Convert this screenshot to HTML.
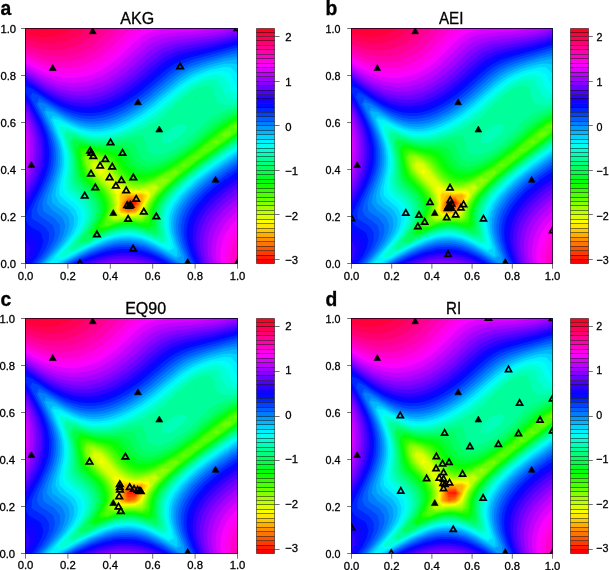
<!DOCTYPE html><html><head><meta charset="utf-8"><title>Contour plots</title><style>html,body{margin:0;padding:0;background:#fff;overflow:hidden}svg{display:block}text{font-family:"Liberation Sans",Arial,Helvetica,sans-serif;fill:#000;stroke:#000;stroke-width:0.3px}</style></head><body>
<svg width="609" height="570" viewBox="0 0 609 570">
<defs><clipPath id="pc"><rect x="0" y="0" width="212" height="235"/></clipPath>
<g id="cf"><rect width="212" height="235" fill="#ff0000"/>
<path fill="#ff1d00" d="M6.8 235 212 235 212 0 0 0 0 235Z"/>
<path fill="#ff3a00" d="M6.8 235 212 235 212 0 0 0 0 235ZM102.1 174.4 102.6 173.8 109.4 173 110.7 174.4 109.4 176.3 102.6 175.6Z"/>
<path fill="#ff5700" d="M6.8 235 212 235 212 0 0 0 0 235ZM100.9 174.4 102.6 172.3 109.4 171.7 111.8 174.4 109.4 178.1 102.6 179.1Z"/>
<path fill="#ff7300" d="M6.8 235 212 235 212 0 0 0 0 235ZM102.1 181.9 99.7 174.4 102.6 170.8 109.4 170.5 113 174.4 109.4 179.8 103.5 181.9Z"/>
<path fill="#ff9000" d="M6.8 235 212 235 212 0 0 0 0 235ZM99.4 181.9 98.5 174.4 102.6 169.3 109.4 169.2 114.1 174.4 109.4 181.6 102.6 182.9Z"/>
<path fill="#ffad00" d="M6.8 235 212 235 212 0 0 0 0 235ZM96.7 181.9 97.3 174.4 102.6 167.8 109.4 168 115.3 174.4 110.6 181.9 109.4 182.7 102.6 183.7Z"/>
<path fill="#ffca00" d="M6.8 235 212 235 212 0 0 0 0 235ZM95 181.9 96.1 174.4 99.7 166.8 102.6 166.3 109.4 166.7 116.3 166.1 117.6 166.8 116.4 174.4 112.1 181.9 109.4 183.7 102.6 184.5 95.7 182.8Z"/>
<path fill="#ffe700" d="M6.8 235 212 235 212 0 0 0 0 235ZM93.8 181.9 94.8 174.4 94.7 166.8 95.7 165.1 102.6 164.8 109.4 165.4 116.3 164.9 120.2 166.8 116.3 177.3 113.6 181.9 109.4 184.6 102.6 185.3 95.7 184.2Z"/>
<path fill="#faff00" d="M6.8 235 212 235 212 0 0 0 0 235ZM92.6 181.9 93.6 174.4 93 166.8 95.7 162.2 109.4 164.2 116.3 163.7 122.8 166.8 118.5 174.4 115.1 181.9 109.4 185.6 102.6 186.1 95.7 185.5Z"/>
<path fill="#ddff00" d="M6.8 235 212 235 212 0 0 0 0 235ZM91.3 181.9 92.3 174.4 91.3 166.8 88 159.2 88.9 157 102.6 161.9 109.4 162.9 116.3 162.4 123.1 163.4 124.2 166.8 119.6 174.4 116.3 182.4 109.4 186.6 95.7 186.9ZM81.9 151.6 82.1 151.1 82.4 151.6ZM73.8 144 75.2 139.8 78.4 144 75.2 145.4Z"/>
<path fill="#c0ff00" d="M6.8 235 212 235 212 0 0 0 0 235ZM90.1 181.9 91.1 174.4 88.9 165.3 85.8 159.2 82.1 154.6 71.2 144 68.4 140 66.6 136.5 68.4 133.7 75.2 135.4 76.6 136.5 89 151.6 95.7 157.1 99.4 159.2 102.6 160.5 109.4 161.6 116.3 161.2 123.1 159.6 125.4 166.8 120.6 174.4 116.3 184.8 109.4 187.5 95.7 188.3ZM124.3 159.2 129.9 158.3 130.8 159.2 129.9 160.1Z"/>
<path fill="#a4ff00" d="M6.8 235 212 235 212 0 0 0 0 235ZM87.1 189.5 88.9 182.1 89.8 174.4 87.8 166.8 83.5 159.2 82.1 157.4 68.4 143.6 64.8 136.5 68.4 130.9 75.2 133.4 79.1 136.5 91.6 151.6 95.7 155 102.6 158.9 109.4 160.3 116.3 159.9 123.1 157.9 129.9 156.5 132.5 159.2 129.9 161.9 121.7 174.4 118.9 181.9 116.3 187.2 109.4 188.5 102.6 188.6 88.9 190.5Z"/>
<path fill="#87ff00" d="M6.8 235 212 235 212 0 0 0 0 235ZM85.2 189.5 87.5 181.9 88.5 174.4 86.1 166.8 81.4 159.2 66.7 144 63 136.5 64.8 128.9 68.4 128.5 75.2 131.4 81.7 136.5 88.9 145.9 94.2 151.6 102.6 156.9 109.4 158.9 116.3 158.5 129.9 154.6 134.2 159.2 129.9 163.8 122.8 174.4 120.1 181.9 116.4 189.5 102.6 189.4 88.9 191.6ZM135.1 151.6 136.8 150.8 139.4 151.6 136.8 153.5Z"/>
<path fill="#6aff00" d="M6.8 235 212 235 212 98.8 211.2 98.5 212 98.2 212 0 0 0 0 235ZM83.3 189.5 86.1 181.9 86.8 174.4 84.5 166.8 79.4 159.2 68.4 148.1 64.8 144 61.3 136.5 60.3 128.9 61.5 127.1 68.4 127 75.2 129.4 82.1 134.1 84.3 136.5 89.8 144 97.2 151.6 102.6 154.8 109.4 156.9 116.3 156.7 123.1 155 129.9 152.8 136.8 149.2 143.6 150.4 143.9 151.6 136.8 157.2 135.8 159.2 129.9 165.6 124 174.4 118.5 189.5 116.3 190.9 102.6 190.4 88.9 192.7ZM147.9 144 150.5 142.9 151.5 144 150.5 144.8ZM190.3 113.7 191.5 113 192.2 113.7 191.5 114.1ZM198 106.1 199.5 106.1 198.3 106.5Z"/>
<path fill="#4dff00" d="M6.8 235 212 235 212 100.3 206.7 98.5 212 96.1 212 0 0 0 0 235ZM81.5 189.5 84.6 181.9 85.2 174.4 82.8 166.8 82.1 165.6 77.4 159.2 68.4 150.3 63 144 61.5 141.1 59.8 136.5 58.8 128.9 61.5 124.9 68.4 125.5 78.3 128.9 82.1 131.3 86.9 136.5 92.5 144 95.7 147.5 100.6 151.6 102.6 152.8 109.4 154.9 116.3 155 123.1 153.5 129.9 151 143.6 143.8 150.5 140.8 153.5 144 150.5 146.4 137.4 159.2 130.4 166.8 125.4 174.4 122.5 181.9 120.7 189.5 116.3 192.2 102.6 191.4 88.9 193.7 82.1 192.1ZM155.6 136.5 157.3 135.3 162.3 136.5 157.3 138.4ZM167.6 128.9 171 126.9 172.8 128.9 171 130.1ZM176.5 121.3 177.8 120.2 183.6 121.3 177.8 122.8ZM186.6 113.7 191.5 110.5 194.4 113.7 191.5 115.6ZM195.7 106.1 198.3 104.1 205.2 102.3 205.7 106.1 205.2 106.6 198.3 109.1Z"/>
<path fill="#30ff00" d="M6.8 235 212 235 212 101.8 205.2 107.8 198.3 111.8 196.7 113.7 191.5 117 184.6 122.4 177.8 125.5 175 128.9 171 131.5 164.1 137.4 157.3 141.3 155.5 144 150.5 147.9 138.9 159.2 131.9 166.8 126.7 174.4 123.8 181.9 122.9 189.5 116.3 193.5 109.4 192.6 102.6 192.4 88.9 194.8 82.1 197.4 78.9 197.1 80 189.5 83.2 181.9 83.6 174.4 80.9 166.8 75.4 159.2 67.4 151.6 61.1 144 58.4 136.5 57.2 128.9 61.5 122.6 75.2 125.9 82.6 128.9 88.9 135.3 95.7 144.6 102.6 150.2 105.3 151.6 109.4 152.9 116.3 153.2 123.1 152 136.8 146.1 143.6 142.1 150.5 138.6 164.1 128.6 171 124.5 174.2 121.3 184.6 112.8 191.5 108.1 193.4 106.1 203.5 98.5 205.2 97.4 212 94 212 0 0 0 0 235Z"/>
<path fill="#13ff00" d="M6.8 235 212 235 212 103.3 209 106.1 198.3 114.1 191.5 118.4 184.6 123.6 171 133 150.5 149.5 140.3 159.2 133.3 166.8 128.1 174.4 125.2 181.9 124.4 189.5 123.1 193.5 116.3 194.7 109.4 193.7 102.6 193.4 95.7 194.3 88.9 195.8 82.1 198.4 75.2 198.3 74.1 197.1 78.5 189.5 81.7 181.9 81.9 174.4 78.7 166.8 75.2 161.9 72.8 159.2 64.7 151.6 61.5 147.9 59.2 144 57 136.5 55.6 128.9 56 121.3 61.5 120.7 82.1 126.3 87.1 128.9 88.9 130.7 95.7 140.3 98.9 144 102.6 147.1 109.4 150.5 116.3 151.3 123.1 149.9 136.8 144.5 150.5 136.5 171 122.2 184.6 110.9 201.1 98.5 205.2 95.6 212 91.9 212 0 0 0 0 235Z"/>
<path fill="#00ff0a" d="M6.8 235 212 235 212 104.8 198.3 115.3 191.5 119.8 171 134.4 150.5 151 141.7 159.2 134.8 166.8 129.4 174.4 126.7 181.9 125.9 189.5 123.6 197.1 123.1 197.4 109.4 194.8 102.6 194.5 95.7 195.3 88.9 196.9 82.1 199.4 75.2 200.2 72.5 197.1 77 189.5 79.8 181.9 79.8 174.4 76.6 166.8 75.2 164.9 70.3 159.2 62.1 151.6 57.3 144 54.1 128.9 53.2 121.3 54.7 119.1 61.5 119.2 68.4 121 82.1 123.9 88.9 126.7 91.6 128.9 96.5 136.5 102.8 144 109.4 147.4 116.3 148.5 123.1 147.6 129.9 145.5 136.8 142.4 147.5 136.5 157.3 130.1 177.8 114.7 191.5 103.5 205.2 93.8 212 89.9 212 0 0 0 0 235Z"/>
<path fill="#00ff26" d="M6.8 235 212 235 212 106.3 198.3 116.6 171 135.9 151.5 151.6 143.2 159.2 136.2 166.8 131 174.4 128.1 181.9 126.3 197.1 123.1 198.9 109.4 195.9 102.6 195.5 95.7 196.2 88.9 198 82.1 200.4 75.2 202 68.4 205.4 66.9 204.7 68.4 202.5 70.9 197.1 75.5 189.5 77.9 181.9 77.6 174.4 74.2 166.8 68.4 160.1 59.3 151.6 55.4 144 51.6 121.3 54.7 116.6 61.5 117.7 68.4 119.4 82.1 121.6 88.9 123.1 95.7 128.2 100.8 136.5 102.6 138.6 109 144 116.3 145.7 123.1 145.3 129.9 143.5 143.6 136.9 156.3 128.9 176.5 113.7 191.5 101.3 198.3 96.3 212 88 212 0 0 0 0 235Z"/>
<path fill="#00ff43" d="M6.8 235 212 235 212 107.8 198.3 117.9 172.1 136.5 153.2 151.6 144.9 159.2 136.8 168.3 132.7 174.4 129.9 180.8 129.5 181.9 128.8 189.5 129 197.1 123.1 200.4 109.4 196.9 102.6 196.5 95.7 197.2 82.1 201.5 68.4 206.6 64.5 204.7 68.4 198.9 73.6 189.5 76 181.9 75.5 174.4 71.4 166.8 68.4 163.3 56.4 151.6 54.7 148.1 53.4 144 50 121.3 54.7 114.2 68.4 117.8 75.2 118.9 88.9 119.9 95.2 121.3 101.3 128.9 106.1 136.5 109.4 139.3 116.3 142.2 123.1 142.3 129.9 140.5 136.8 137.9 140 136.5 152.8 128.9 163.9 121.3 177.8 109.8 198.3 93.8 212 86.1 212 0 0 0 0 235Z"/>
<path fill="#00ff60" d="M6.8 235 212 235 212 109.3 184.2 128.9 163.9 144 146.7 159.2 139.7 166.8 134.4 174.4 131.2 181.9 130.3 189.5 131 197.1 129.9 201.9 123.1 201.9 109.4 198.2 102.6 197.7 95.7 198.4 88.9 200.2 82.1 202.5 68.4 207.8 62 204.7 67.5 197.1 71.7 189.5 73.8 181.9 72.8 174.4 68.6 166.8 54.7 153.4 53.5 151.6 51.5 144 49.9 128.9 47 113.7 47.9 112.3 54.7 112.4 61.5 114.7 68.4 116.2 75.2 117.1 95.7 117.5 102.6 120.1 103.8 121.3 107.2 128.9 109.4 132.3 113.7 136.5 116.3 137.7 123.1 138.5 129.9 137.5 136.8 135.1 148.7 128.9 159.9 121.3 170 113.7 184.6 101 191.5 95.6 205.2 87.1 212 84.2 212 0 0 0 0 235Z"/>
<path fill="#00ff7d" d="M6.8 235 212 235 212 110.8 186.3 128.9 165.9 144 156.6 151.6 148.5 159.2 141.5 166.8 136.1 174.4 133 181.9 132 189.5 132.6 197.1 131.9 204.7 129.9 205.7 116.3 201.2 109.4 199.6 102.6 199 95.7 199.7 82.1 203.5 68.4 209 61.5 212.7 54.7 212.8 54.2 212.3 65.6 197.1 69.8 189.5 71.4 181.9 70.1 174.4 68.4 171.3 65 166.8 54.7 157.4 50.7 151.6 49.5 144 48.5 128.9 45.2 113.7 47.9 109.5 54.7 110.8 61.5 113.1 68.4 114.6 75.2 115.3 82.1 115.2 102.6 113.2 106.2 113.7 109.4 116 114.8 128.9 116.3 130.3 123.1 133.4 129.9 133.1 136.8 131.2 143.6 128.5 155.2 121.3 165.4 113.7 184.6 96.8 191.5 91.7 198.3 87.3 212 81.7 212 0 0 0 0 235Z"/>
<path fill="#00ff9a" d="M6.8 235 212 235 212 112.3 205.2 117.5 177.7 136.5 167.9 144 158.6 151.6 150.3 159.2 143.3 166.8 138 174.4 134.8 181.9 133.7 189.5 135 204.7 129.9 207.4 116.3 202.5 109.4 200.9 102.6 200.4 95.7 201 88.9 202.5 82.1 204.5 68.4 210.2 61.5 213.8 54.7 214.9 52.4 212.3 63.7 197.1 67.6 189.5 68.9 181.9 67 174.4 61.5 167 52.2 159.2 47.9 151.6 47.7 136.5 47 128.9 43.5 113.7 47.9 106.8 61.5 111.4 68.4 112.9 75.2 113.4 82.1 113.1 88.9 112.1 109.4 107.7 116.3 106.8 120.4 113.7 121.3 121.3 123.1 123.8 129.9 127 136.8 125.9 147.9 121.3 159.2 113.7 168 106.1 175.8 98.5 177.8 96.1 184.6 90.1 191.5 85.4 205.2 80.6 212 78.7 212 0 0 0 0 235ZM169.8 68.2 171 67.7 173.1 68.2 171 70.5Z"/>
<path fill="#00ffb7" d="M6.8 235 212 235 212 113.9 205.2 119.1 180 136.5 169.9 144 160.8 151.6 152.5 159.2 145.4 166.8 140.1 174.4 136.6 181.9 135.4 189.5 135.9 197.1 137.5 204.7 136.8 209.6 129.9 209.1 116.3 203.8 109.4 202.2 102.6 201.7 95.7 202.2 88.9 203.6 82.1 205.8 68.4 211.4 61.5 214.9 54.7 217 50.8 219.8 47.9 221.1 45.1 219.8 47.9 216.7 50.5 212.3 56.6 204.7 61.9 197.1 65.1 189.5 66 181.9 63.5 174.4 61.5 171.8 56.6 166.8 47.8 159.2 45.4 151.6 45.9 136.5 45.4 128.9 43.9 121.3 39.8 106.1 41 104.1 47.9 104.8 54.7 107.6 61.5 109.7 68.4 111 75.2 111.4 82.1 110.9 88.9 109.7 95.7 108 109.4 103.3 116.3 100.5 129.9 93.6 133.1 91 136.8 88.8 150 75.8 158.4 68.2 168.9 60.6 171 59.5 177.8 57.3 184.6 57.3 188.2 60.6 189.6 68.2 191.5 72.8 195.6 75.8 198.3 76.3 205.2 76.4 212 75.8 212 0 0 0 0 235ZM136.8 114.2 143.6 114.6 145.9 113.7 157.3 106.1 161.9 98.5 157.3 95.6 150.5 96.8 147 98.5 143.6 101 138.2 106.1 136.2 113.7Z"/>
<path fill="#00ffd4" d="M6.8 235 212 235 212 115.9 182.4 136.5 172.2 144 162.9 151.6 154.7 159.2 147.6 166.8 142.2 174.4 138.7 181.9 137.2 189.5 137.6 197.1 139.3 204.7 139.4 212.3 136.8 213.6 116.3 205.2 109.4 203.6 102.6 203 95.7 203.5 88.9 204.7 75.2 209.7 69.1 212.3 47.9 222.4 42.3 219.8 47.9 213.6 54.8 204.7 59.6 197.1 62.6 189.5 62.8 181.9 61.5 178.4 59.5 174.4 54.7 169.5 47.9 164 43.9 159.2 42.8 151.6 44.1 136.5 43.7 128.9 42.4 121.3 38 106.1 41 101.1 47.9 103.1 54.7 105.9 61.5 107.9 68.4 109.1 75.2 109.3 82.1 108.7 88.9 107.3 102.6 102.8 116.3 96.2 129.9 87.7 162.5 60.6 171 55.6 177.8 52.4 184.6 51 191.5 51.7 193.7 53.1 198.3 63.9 201.3 68.2 205.2 70.2 212 71.3 212 0 0 0 0 235Z"/>
<path fill="#00fff1" d="M6.8 235 212 235 212 117.9 184.9 136.5 174.8 144 165.3 151.6 156.9 159.2 149.9 166.8 143.6 175.8 140.8 181.9 139.2 189.5 139.5 197.1 142.9 212.3 136.8 215.4 123.1 209.3 116.3 206.7 109.4 205 106.4 204.7 102.6 204.4 95.7 204.8 88.9 206.2 82.1 208.3 71.7 212.3 47.9 223.6 41 227.8 34.2 228.5 33.2 227.4 46.7 212.3 52.6 204.7 57.1 197.1 59.6 189.5 59.2 181.9 54.9 174.4 45.4 166.8 41 161.3 40.2 159.2 40.3 151.6 42.3 136.5 42.1 128.9 40.9 121.3 33.8 98.5 34.2 97.8 41 98.3 54.7 104.1 61.5 106.2 68.4 107.2 75.2 107.3 82.1 106.5 88.9 104.9 95.7 102.6 102.6 99.9 109.4 96.5 116.3 92.8 123.1 88.4 136.8 78.2 157.6 60.6 164.1 56.2 171 52.1 177.8 49.3 184.6 47.2 191.5 46.1 198.3 48.4 201.6 53.1 205.2 61.1 212 66.2 212 0 0 0 0 235Z"/>
<path fill="#00f1ff" d="M6.8 235 25.6 235 27.4 233.3 28.9 235 212 235 212 120 187.9 136.5 177.3 144 168 151.6 159.6 159.2 152.4 166.8 146.9 174.4 143 181.9 141.3 189.5 141.4 197.1 142.7 204.7 145 212.3 145.1 219.8 143.6 220.6 123.1 210.7 116.3 208.3 109.4 206.6 102.6 206 95.7 206.4 88.9 207.7 75.2 211.9 47.9 224.9 41 229 34.2 230.7 31.3 227.4 44.7 212.3 50.3 204.7 54.6 197.1 56.4 189.5 55.2 181.9 54.7 181.1 49.1 174.4 39.4 166.8 36.9 159.2 40.4 136.5 40.4 128.9 39.2 121.3 37.1 113.7 31.9 98.5 34.2 94.5 41 96.4 47.9 99.7 54.7 102.3 61.5 104.2 68.4 105.2 75.2 105.1 82.1 104.1 88.9 102.4 95.7 100 102.6 97 113.8 91 123.1 85 129.9 80 153.3 60.6 163.8 53.1 171 49.2 177.8 46.3 184.6 44.1 191.5 42.8 198.3 42.6 205.2 45.5 208.5 53.1 212 58.7 212 0 0 0 0 235Z"/>
<path fill="#00d4ff" d="M6.8 235 22.7 235 27.4 230.4 29.4 227.4 42.6 212.3 48.1 204.7 51.5 197.1 52.7 189.5 50.2 181.9 47.9 179.1 41 173.6 34 166.8 33.7 159.2 37.3 144 38.4 136.5 38.5 128.9 37.5 121.3 35.6 113.7 27.2 91 27.4 90.6 34.2 91.2 47.9 97.9 54.7 100.4 61.5 102.1 68.4 102.9 75.2 102.8 82.1 101.7 88.9 99.9 95.7 97.4 108.7 91 116.3 86.4 129.9 76.6 150.5 59.6 157.3 54.4 164.1 49.9 173 45.5 184.6 41.4 198.3 38.4 205.2 38.7 212 45.2 212 0 0 0 0 235ZM34.2 235 212 235 212 122.2 190.8 136.5 170.7 151.6 162.3 159.2 157.3 164.4 155.1 166.8 149.3 174.4 145.5 181.9 143.6 188.5 143.2 197.1 144.6 204.7 148.8 219.8 143.6 222.5 123.4 212.3 116.3 209.8 109.4 208.2 102.6 207.6 95.7 207.9 88.9 209.1 77.9 212.3 61.5 219.2 47.9 226.1 41 230.1 34.2 232.9 31.6 235Z"/>
<path fill="#00b7ff" d="M6.8 235 20 235 34.2 220 40.4 212.3 45.1 204.7 48.3 197.1 48.5 189.5 47.9 187.8 44.3 181.9 41 179.1 34 174.4 29.8 166.8 30.9 159.2 35.1 144 36.4 136.5 36.7 128.9 35.8 121.3 34 113.7 25.2 91 27.4 87.1 34.2 89.2 41 92.8 54.7 98.6 61.5 100.1 68.4 100.7 75.2 100.4 84.8 98.5 95.7 94.6 102.6 91.4 116.2 83.4 123.1 78.5 154.6 53.1 167 45.5 177.8 41 191.5 36.9 198.3 35.5 205.2 34.9 212 35.9 212 0 0 0 0 235ZM41 235 212 235 212 124.7 183.5 144 173.8 151.6 165.1 159.2 157.8 166.8 152.1 174.4 148 181.9 145.8 189.5 145.4 197.1 146.6 204.7 148.7 212.3 151.5 219.8 151.8 227.4 150.5 228.1 129.9 217 123.1 213.8 116.3 211.3 109.4 209.9 102.6 209.3 95.7 209.5 88.9 210.6 82.1 212.2 62.9 219.8 47.9 227.4 34.3 235Z"/>
<path fill="#009aff" d="M6.8 235 18 235 32 219.8 37.7 212.3 42.1 204.7 44.3 197.1 43.4 189.5 41 186 36.8 181.9 26.7 174.4 25.9 166.8 32.9 144 34.4 136.5 34.8 128.9 34.1 121.3 32.2 113.7 29.6 106.1 20.1 83.4 20.5 82.5 27.4 83.5 41 91 47.9 94 54.7 96.4 61.5 97.9 68.4 98.4 75.2 98 82.1 96.6 88.9 94.5 95.7 91.8 109.4 84.6 116.3 80.1 129.9 69.9 150.5 52.9 157.3 48 164.1 44.1 171 41 184.6 36.3 198.3 32.8 205.2 31.4 212 30.6 212 0 0 0 0 235ZM41 235 212 235 212 127.3 187 144 177 151.6 168.3 159.2 160.9 166.8 157.3 171.3 155 174.4 150.6 181.9 148.3 189.5 147.7 197.1 148.6 204.7 150.5 212 155.7 227.4 150.5 230 129.9 218.6 123.1 215.5 116.3 213 109.4 211.5 102.6 210.9 95.7 211.1 88.9 212.1 82.1 213.8 65.8 219.8 50.2 227.4 36.3 235Z"/>
<path fill="#007dff" d="M6.8 235 16 235 23.1 227.4 29.5 219.8 34.9 212.3 38.5 204.7 39.9 197.1 37.1 189.5 34.2 186.7 27.1 181.9 21.1 174.4 22.5 166.8 28.2 151.6 30.6 144 32.2 136.5 32.7 128.9 32.1 121.3 30.4 113.7 28 106.1 18.1 83.4 20.5 78.8 27.4 81.5 41 89 47.9 92 54.7 94.1 61.5 95.4 68.4 95.8 75.2 95.2 82.1 93.9 90.9 91 102.6 85.4 116.3 76.9 127.7 68.2 150.5 49.4 157.3 44.8 164.1 41.1 172 37.9 184.6 33.8 198.3 30.1 212 27.5 212 0 0 0 0 235ZM41 235 155.6 235 129.9 220.2 123.1 217.2 116.3 214.9 109.4 213.3 102.6 212.6 95.7 212.8 88.9 213.8 82.1 215.5 68.9 219.8 52.6 227.4 41 233.5 38.3 235ZM164.1 235 212 235 212 130 190.8 144 180.7 151.6 171.7 159.2 164 166.8 158 174.4 153.6 181.9 150.9 189.5 150.5 192.7 150 197.1 150.6 204.7 152.6 212.3 155.2 219.8 158.4 227.4 159.4 235Z"/>
<path fill="#0060ff" d="M6.8 235 14.1 235 20.9 227.4 26.9 219.8 31.5 212.3 34.6 204.7 34.6 197.1 34.2 196.3 28.9 189.5 20.5 184.4 17.8 181.9 16.9 174.4 19.3 166.8 25.8 151.6 28.3 144 29.9 136.5 30.6 128.9 30.1 121.3 28.6 113.7 26.2 106.1 23.1 98.5 12.6 75.8 13.7 73.6 20.5 75.4 34.2 83.6 41 86.9 47.9 89.9 54.7 91.9 61.5 93 68.4 93.2 75.2 92.5 82.1 91.1 88.9 88.7 100.5 83.4 112.9 75.8 123.3 68.2 143.6 51.1 150.5 45.9 157.3 41.6 164.9 37.9 177.8 33.4 198.3 27.7 212 24.4 212 0 0 0 0 235ZM41 235 152.2 235 136.8 225.6 123.1 218.9 116.3 216.7 109.4 215.2 102.6 214.6 95.7 214.7 88.9 215.6 75.2 219.1 55 227.4 41 234.6 40.4 235ZM164.1 235 212 235 212 133 191.5 146.6 184.5 151.6 175.4 159.2 167.6 166.8 164.1 170.9 161.4 174.4 156.7 181.9 153.8 189.5 152.6 197.1 153 204.7 154.7 212.3 157.1 219.8 163.6 235Z"/>
<path fill="#0043ff" d="M6.8 235 11.6 235 18.1 227.4 23.6 219.8 27.9 212.3 29.6 204.7 27.7 197.1 20.5 191.4 17.1 189.5 13.7 186.8 11.3 181.9 12.9 174.4 23.2 151.6 25.9 144 27.7 136.5 28.4 128.9 28.1 121.3 27.4 117 26.7 113.7 24.4 106.1 21.5 98.5 10.5 75.8 13.7 69.7 34.2 81.4 41 84.8 47.9 87.5 54.7 89.4 61.5 90.4 68.4 90.5 75.2 89.6 82.1 88 88.9 85.6 95.7 82.6 109.4 74.7 123.1 64.5 143.6 47.2 150.5 42.2 157.3 38.3 164.1 35.2 171 32.8 212 21.6 212 0 0 0 0 235ZM47.9 235 149.2 235 136.8 227.2 123.1 220.7 116.3 218.5 109.4 217.2 102.6 216.5 95.7 216.7 88.9 217.5 82.1 218.8 75.2 220.8 58.3 227.4 42.8 235ZM164.1 231.4 165.8 235 212 235 212 136.1 191.5 149.7 179.3 159.2 171.3 166.8 164.8 174.4 160 181.9 156.8 189.5 155.4 197.1 155.4 204.7 157.3 213.9 159.3 219.8Z"/>
<path fill="#0026ff" d="M6.8 235 9 235 15.2 227.4 20.3 219.8 23.3 212.3 23.6 204.7 20.5 199.5 17.8 197.1 6.8 190.3 6.2 189.5 6.3 181.9 9.6 174.4 20.7 151.6 23.4 144 25.3 136.5 26.1 128.9 25.9 121.3 24.6 113.7 22.5 106.1 19.7 98.5 16.2 91 4.7 68.2 6.8 64 13.7 66.9 27.4 75.6 34.2 79.3 41 82.7 47.9 85.1 54.7 86.7 61.5 87.5 68.4 87.5 75.2 86.5 82.1 84.8 88.9 82.3 95.7 79.1 102.6 75.4 109.4 70.9 123.1 60.6 143.6 43.2 150.5 38.6 157.3 35 164.1 32.2 171 30.1 212 19.1 212 0 0 0 0 235ZM47.9 235 146.6 235 133.6 227.4 123.1 222.7 113.3 219.8 109.4 219.1 102.6 218.5 95.7 218.6 88.9 219.3 82.1 220.6 75.2 222.6 61.5 227.4 45.5 235ZM171 235 212 235 212 139.5 204.7 144 191.5 153.1 183.7 159.2 175.4 166.8 168.7 174.4 164.1 180.9 160.1 189.5 158.3 197.1 158 204.7 159.2 212.3 161.4 219.8 164.1 227.1 167.8 235Z"/>
<path fill="#000aff" d="M6.8 234.2 11.8 227.4 15.9 219.8 17.9 212.3 15.6 204.7 13.7 202.9 3.4 197.1 0 191.8 0 235 6.3 235ZM54.7 235 144 235 129.9 227.4 123.1 224.7 116.3 222.6 109.4 221.2 102.6 220.5 95.7 220.6 88.9 221.3 75.2 224.5 66.1 227.4 48.3 235ZM171 235 212 235 212 143 198.3 151.8 188.4 159.2 179.8 166.8 171 176.7 167.3 181.9 163.5 189.5 161.5 197.1 160.9 204.7 161.7 212.3 163.6 219.8 166.5 227.4 169.8 235ZM2.4 181.9 14.6 159.2 18.1 151.6 20.9 144 22.8 136.5 23.7 128.9 23.6 121.3 22.5 113.7 20.7 106.1 17.8 98.5 14.5 91 0 63.2 0 188.5ZM54.7 84.1 61.5 84.6 68.4 84.4 75.2 83.4 82.1 81.4 88.9 78.8 95.7 75.6 109.4 67.1 117.9 60.6 136.8 44.3 143.6 39 150.5 34.8 157.3 31.6 164.1 29.2 212 16.6 212 0 0 0 0 57.9 6.8 60.2 20.5 69.4 34.2 77.2 41 80.1 47.9 82.6Z"/>
<path fill="#1300ff" d="M6.8 228.8 7.8 227.4 10.8 219.8 10.8 212.3 6.8 207.3 0 203.4 0 235 2.8 235ZM54.7 235 140.6 235 129.9 229.5 123.1 226.7 116.3 224.8 109.4 223.4 102.6 222.8 95.7 222.8 88.9 223.5 75.2 226.3 68.4 228.4 54.7 233.8 51.9 235ZM171 232.9 171.9 235 212 235 212 146.9 204.4 151.6 193.6 159.2 184.5 166.8 177.1 174.4 171.3 181.9 167.3 189.5 164.8 197.1 164.1 202.3 163.9 204.7 164.3 212.3 166.1 219.8ZM3.3 174.4 11.8 159.2 15.4 151.6 18.3 144 20.5 134.8 21.3 128.9 21.3 121.3 20.4 113.7 18.5 106.1 15.9 98.5 12.7 91 8.9 83.4 0 67.1 0 180ZM41 77.6 47.9 79.7 54.7 81 61.5 81.5 68.4 81.1 75.2 79.8 82.1 77.8 88.9 75.1 101.6 68.2 109.4 62.8 121.5 53.1 136.8 39.7 143.6 34.8 150.5 31 157.3 28.2 164.1 26.1 191.5 19.7 212 14.2 212 0 0 0 0 53.6 22.2 68.2 34.2 74.8Z"/>
<path fill="#3000ff" d="M2.9 227.4 4.4 219.8 0 211.9 0 233ZM61.5 235 137.2 235 123.1 228.9 116.3 226.9 109.4 225.7 102.6 225 95.7 225 82.1 226.7 75.2 228.3 55.8 235ZM171 227.6 174.1 235 212 235 212 150.9 198.3 159.9 189.8 166.8 184.6 171.6 181.9 174.4 175.8 181.9 171.3 189.5 168.6 197.1 167.3 204.7 167.4 212.3 168.8 219.8ZM0.2 174.4 9 159.2 12.7 151.6 15.6 144 17.6 136.5 18.7 128.9 18.8 121.3 18 113.7 16.3 106.1 14 98.5 7.2 83.4 0 70.4ZM47.9 76.9 54.7 77.9 61.5 78.2 68.4 77.6 76.7 75.8 82.1 74 88.9 71.1 95.7 67.6 106.3 60.6 115.9 53.1 133.1 37.9 136.8 34.9 143.9 30.3 150.5 27.2 157.3 24.8 198.3 15.5 212 11.7 212 0 0 0 0 51.2 13.7 60.8 27.4 69 41 75Z"/>
<path fill="#4d00ff" d="M61.5 235 132.7 235 123.1 231.3 116.3 229.3 109.4 228 104 227.4 95.7 227.3 88.9 227.8 82.1 228.9 68.4 232.5 61.5 234.7 60.6 235ZM177.8 235 212 235 212 155.3 205.2 159.6 198.3 164.6 187.2 174.4 180.6 181.9 175.7 189.5 172.5 197.1 171 203.7 170.5 212.3 171.5 219.8 173.6 227.4 176.4 235ZM1.9 166.8 6.8 157.9 9.8 151.6 12.8 144 14.9 136.5 16 128.9 16.2 121.3 15.6 113.7 14.1 106.1 11.7 98.5 5.3 83.4 0 73.5 0 170ZM34.2 69.6 41 72 47.9 73.7 54.7 74.6 61.5 74.7 68.4 73.9 75.2 72.3 82.1 69.9 88.9 66.9 95.7 63 102.6 58.6 109.9 53.1 129.9 35.3 136.8 30.1 143.6 26.1 150.5 23.3 157.3 21.3 191.5 14.5 212 9.2 212 0 0 0 0 49.1 6.8 53.9 20.5 62.7 27.4 66.4Z"/>
<path fill="#6a00ff" d="M68.4 235 127.2 235 116.3 231.7 109.4 230.5 102.6 229.8 95.7 229.8 88.9 230.3 82.1 231.3 68.4 234.5 66.7 235ZM177.8 231.8 178.9 235 212 235 212 159.8 201.9 166.8 191.5 175.7 184.6 183.4 180.5 189.5 177.8 194.8 176.8 197.1 174.8 204.7 174.1 212.3 174.7 219.8 176.4 227.4ZM3.3 159.2 7 151.6 9.9 144 12 136.5 13.3 128.9 13.7 121.3 13.1 113.7 11.6 106.1 9.5 98.5 6.8 91 0 76.8 0 165.1ZM41 69 47.9 70.4 54.7 71 61.5 70.9 68.4 69.9 75.2 68.2 82.1 65.6 91.9 60.6 102.6 53.6 112.4 45.5 129.9 29.8 136.8 25.1 141.4 22.7 150.5 19.4 157.3 17.8 191.5 11.8 212 6.7 212 0 0 0 0 46.9 20.5 60.3 34.2 66.7Z"/>
<path fill="#8700ff" d="M75.2 235 119.4 235 109.4 233 102.6 232.4 95.7 232.3 82.1 233.6ZM184.6 235 212 235 212 164.9 199.2 174.4 191.5 181.9 185.6 189.5 181.5 197.1 178.9 204.7 177.8 212.3 178 219.8 179.4 227.4 181.7 235ZM0.3 159.2 3.9 151.6 6.8 144.3 9.1 136.5 10.4 128.9 10.8 121.3 10.4 113.7 9.1 106.1 7.2 98.5 4.5 91 0 80.9 0 159.8ZM27.4 61 34.2 63.5 41 65.6 47.9 66.8 54.7 67.3 61.5 66.9 68.4 65.6 75.2 63.7 82.8 60.6 95.9 53.1 105.7 45.5 123.1 29.6 129.9 24.1 136.8 20.1 143.6 17.4 150.5 15.6 184.6 10.3 198.3 7.6 205.2 5.9 212 4 212 0 0 0 0 44.7 13.7 53.8Z"/>
<path fill="#a400ff" d="M184.6 235 212 235 212 170.3 205.2 175.3 197.8 181.9 191.2 189.5 186.6 197.1 184.6 201.6 183.5 204.7 182 212.3 181.8 219.8 182.7 227.4ZM0.9 151.6 3.8 144 6 136.5 7.4 128.9 7.9 121.3 7.6 113.7 6.6 106.1 4.6 98.5 0 85.6 0 153.5ZM41 62 47.9 63 54.7 63.1 61.5 62.5 70.1 60.6 75.2 58.9 82.1 55.9 88.9 52.1 98.3 45.5 107.2 37.9 123.8 22.7 129.9 18.5 136.8 15.2 143.6 13.1 150.5 11.7 177.8 8.3 191.5 6.2 212 1.4 212 0 0 0 0 42.3 6.8 46.9 20.5 54.7 34.2 60.4Z"/>
<path fill="#c000ff" d="M191.5 235 212 235 212 176.1 204.8 181.9 197.5 189.5 192.2 197.1 188.6 204.7 186.5 212.3 185.8 219.8 186.3 227.4 187.9 235ZM0.7 144 2.9 136.5 4.3 128.9 4.9 121.3 4.7 113.7 3.7 106.1 2 98.5 0 91.7 0 145.8ZM27.4 54.5 34.2 56.6 41 58.1 47.9 58.9 54.7 58.8 61.5 57.9 68.4 56.2 76.8 53.1 82.1 50.4 90.1 45.5 99.7 37.9 116.3 22.4 123.1 16.8 129.9 12.9 136.8 10.4 143.6 8.8 184.6 4.3 198.3 1.9 206.8 0 0 0 0 39.8 13.7 48.2 20.5 51.7Z"/>
<path fill="#dd00ff" d="M191.5 235 212 235 212 182.6 204.5 189.5 198.4 197.1 194.2 204.7 191.4 212.3 190.3 219.8 190.3 227.4ZM1.1 128.9 1.8 121.3 1.7 113.7 0.9 106.1 0 101.8 0 134.7ZM41 54 47.9 54.5 54.7 54.1 61.5 53 68.4 50.9 75.2 48.1 80.3 45.5 88.9 39.9 95.7 34.3 116.3 15.2 123.1 10.5 129.9 7.4 136.8 5.6 143.6 4.5 177.8 2 192.7 0 0 0 0 37.3 13.7 45.2 20.5 48.3 27.4 50.9 34.2 52.9Z"/>
<path fill="#fa00ff" d="M198.3 235 212 235 212 189.9 205.2 197.3 200.3 204.7 197 212.3 195.2 219.8 194.7 227.4 195.4 235ZM27.4 47 34.2 48.6 41 49.5 47.9 49.7 54.7 49 61.5 47.5 68.4 45.3 75.2 42 82.1 38 88.9 32.8 95.7 26.7 109.4 13.4 116.9 7.6 123.1 4.3 129.9 2.2 136.8 0.9 149.9 0 0 0 0 34.3 6.8 38.4 13.7 41.8 20.5 44.8Z"/>
<path fill="#ff00e7" d="M205.2 235 212 235 212 198.4 207.2 204.7 205.2 208.1 203.1 212.3 200.7 219.8 199.6 227.4 199.7 235ZM13.7 38.3 27.4 42.8 34.2 44.2 41 44.8 47.9 44.6 54.7 43.5 61.5 41.6 70.6 37.9 75.2 35.3 82.1 30.7 91.3 22.7 106.7 7.6 109.4 5.3 116.3 1 118.5 0 0 0 0 31.3Z"/>
<path fill="#ff00ca" d="M205.2 235 212 235 212 208.9 210 212.3 206.7 219.8 204.9 227.4 204.5 235ZM27.4 38.3 34.2 39.3 41 39.5 47.9 38.9 54.7 37.6 61.5 35.2 68.4 32 75.2 27.8 82.1 22.6 102.6 2.4 105.6 0 0 0 0 27.8 6.8 31.4 13.7 34.2 20.5 36.6Z"/>
<path fill="#ff00ad" d="M212 235 212 224.1 211 227.4 210 235ZM20.5 32 27.4 33.3 34.2 33.9 41 33.7 47.9 32.8 54.7 31 61.5 28.2 68.4 24.4 75.2 19.4 82.1 13.3 94.9 0 0 0 0 24.2 13.7 30Z"/>
<path fill="#ff0090" d="M6.8 23.1 13.7 25.2 20.5 26.9 27.4 27.8 34.2 28.1 41 27.5 47.9 26 56.8 22.7 61.5 20.2 68.4 15.7 77.6 7.6 84.7 0 0 0 0 20.1Z"/>
<path fill="#ff0073" d="M6.8 18.2 13.7 20.1 20.5 21.4 27.4 21.9 34.2 21.7 41 20.6 47.9 18.5 55.4 15.2 61.5 11.3 66.3 7.6 74.2 0 0 0 0 15.7Z"/>
<path fill="#ff0057" d="M20.5 15.3 29.6 15.2 34.2 14.6 41 12.8 47.9 10.1 52.6 7.6 62.7 0 0 0 0 10.8 6.8 12.9 13.7 14.5Z"/>
<path fill="#ff003a" d="M13.7 8.2 20.5 8.5 27.4 8 34.2 6.6 41 4.1 48.7 0 0 0 0 5.4 6.8 7.2Z"/>
<path fill="#ff001d" d="M6.8 0.7 13.7 1.2 20.5 0.9 26.3 0 2.8 0Z"/></g>
<path id="to" d="M0 -3.6L3.2 1.8L-3.2 1.8Z" fill="none" stroke="#000" stroke-width="1.75" stroke-linejoin="miter"/>
<path id="tf" d="M0 -4L3.55 2.05L-3.55 2.05Z" fill="#000" stroke="#000" stroke-width="0.6" stroke-linejoin="round"/>
</defs>
<rect width="609" height="570" fill="#fff"/>
<g transform="translate(25.5 28.5) scale(1 1)">
<g clip-path="url(#pc)"><use href="#cf"/>
<use href="#tf" x="67.2" y="3.2"/>
<use href="#tf" x="27.2" y="40.0"/>
<use href="#tf" x="112.5" y="74.2"/>
<use href="#tf" x="133.8" y="101.5"/>
<use href="#tf" x="5.9" y="137.0"/>
<use href="#tf" x="190.0" y="151.7"/>
<use href="#tf" x="87.8" y="185.0"/>
<use href="#tf" x="162.2" y="234.0"/>
<use href="#to" x="85.0" y="114.3"/>
<use href="#to" x="64.7" y="122.5"/>
<use href="#to" x="65.8" y="124.9"/>
<use href="#to" x="67.8" y="128.1"/>
<use href="#to" x="97.0" y="124.7"/>
<use href="#to" x="79.8" y="131.1"/>
<use href="#to" x="74.6" y="137.5"/>
<use href="#to" x="86.7" y="138.5"/>
<use href="#to" x="65.5" y="145.5"/>
<use href="#to" x="84.1" y="149.3"/>
<use href="#to" x="107.8" y="149.3"/>
<use href="#to" x="95.9" y="152.1"/>
<use href="#to" x="90.4" y="157.6"/>
<use href="#to" x="69.8" y="159.3"/>
<use href="#to" x="100.7" y="162.3"/>
<use href="#to" x="59.2" y="167.5"/>
<use href="#to" x="110.7" y="170.7"/>
<use href="#to" x="101.7" y="177.1"/>
<use href="#to" x="103.7" y="177.7"/>
<use href="#to" x="105.0" y="176.8"/>
<use href="#to" x="102.6" y="190.8"/>
<use href="#to" x="118.3" y="183.6"/>
<use href="#to" x="130.8" y="188.3"/>
<use href="#to" x="71.4" y="206.4"/>
<use href="#to" x="107.6" y="220.5"/>
<use href="#to" x="54.4" y="235.0"/>
<use href="#to" x="154.6" y="38.4"/>
<use href="#to" x="212.0" y="0.0"/>
<use href="#to" x="212.0" y="235.0"/>
</g>
<rect x="0" y="0" width="212" height="235" fill="none" stroke="#000" stroke-opacity="0.7" stroke-width="1"/>
</g>
<path d="M25.50 264.00V268.70M21.00 263.50H25.00M67.90 264.00V268.70M21.00 216.50H25.00M110.30 264.00V268.70M21.00 169.50H25.00M152.70 264.00V268.70M21.00 122.50H25.00M195.10 264.00V268.70M21.00 75.50H25.00M237.50 264.00V268.70M21.00 28.50H25.00M275.00 36.50H279.60M275.00 81.50H279.60M275.00 125.50H279.60M275.00 170.50H279.60M275.00 214.50H279.60M275.00 259.50H279.60" stroke="#000" stroke-opacity="0.55" stroke-width="1" fill="none"/>
<g><rect x="256.50" y="259.50" width="18.00" height="4.05" fill="#ff0000"/><rect x="256.50" y="255.04" width="18.00" height="4.51" fill="#ff1d00"/><rect x="256.50" y="250.58" width="18.00" height="4.51" fill="#ff3a00"/><rect x="256.50" y="246.12" width="18.00" height="4.51" fill="#ff5700"/><rect x="256.50" y="241.66" width="18.00" height="4.51" fill="#ff7300"/><rect x="256.50" y="237.20" width="18.00" height="4.51" fill="#ff9000"/><rect x="256.50" y="232.74" width="18.00" height="4.51" fill="#ffad00"/><rect x="256.50" y="228.28" width="18.00" height="4.51" fill="#ffca00"/><rect x="256.50" y="223.82" width="18.00" height="4.51" fill="#ffe700"/><rect x="256.50" y="219.36" width="18.00" height="4.51" fill="#faff00"/><rect x="256.50" y="214.90" width="18.00" height="4.51" fill="#ddff00"/><rect x="256.50" y="210.44" width="18.00" height="4.51" fill="#c0ff00"/><rect x="256.50" y="205.98" width="18.00" height="4.51" fill="#a4ff00"/><rect x="256.50" y="201.52" width="18.00" height="4.51" fill="#87ff00"/><rect x="256.50" y="197.06" width="18.00" height="4.51" fill="#6aff00"/><rect x="256.50" y="192.60" width="18.00" height="4.51" fill="#4dff00"/><rect x="256.50" y="188.14" width="18.00" height="4.51" fill="#30ff00"/><rect x="256.50" y="183.68" width="18.00" height="4.51" fill="#13ff00"/><rect x="256.50" y="179.22" width="18.00" height="4.51" fill="#00ff0a"/><rect x="256.50" y="174.76" width="18.00" height="4.51" fill="#00ff26"/><rect x="256.50" y="170.30" width="18.00" height="4.51" fill="#00ff43"/><rect x="256.50" y="165.84" width="18.00" height="4.51" fill="#00ff60"/><rect x="256.50" y="161.38" width="18.00" height="4.51" fill="#00ff7d"/><rect x="256.50" y="156.92" width="18.00" height="4.51" fill="#00ff9a"/><rect x="256.50" y="152.46" width="18.00" height="4.51" fill="#00ffb7"/><rect x="256.50" y="148.00" width="18.00" height="4.51" fill="#00ffd4"/><rect x="256.50" y="143.54" width="18.00" height="4.51" fill="#00fff1"/><rect x="256.50" y="139.08" width="18.00" height="4.51" fill="#00f1ff"/><rect x="256.50" y="134.62" width="18.00" height="4.51" fill="#00d4ff"/><rect x="256.50" y="130.16" width="18.00" height="4.51" fill="#00b7ff"/><rect x="256.50" y="125.70" width="18.00" height="4.51" fill="#009aff"/><rect x="256.50" y="121.24" width="18.00" height="4.51" fill="#007dff"/><rect x="256.50" y="116.78" width="18.00" height="4.51" fill="#0060ff"/><rect x="256.50" y="112.32" width="18.00" height="4.51" fill="#0043ff"/><rect x="256.50" y="107.86" width="18.00" height="4.51" fill="#0026ff"/><rect x="256.50" y="103.40" width="18.00" height="4.51" fill="#000aff"/><rect x="256.50" y="98.94" width="18.00" height="4.51" fill="#1300ff"/><rect x="256.50" y="94.48" width="18.00" height="4.51" fill="#3000ff"/><rect x="256.50" y="90.02" width="18.00" height="4.51" fill="#4d00ff"/><rect x="256.50" y="85.56" width="18.00" height="4.51" fill="#6a00ff"/><rect x="256.50" y="81.10" width="18.00" height="4.51" fill="#8700ff"/><rect x="256.50" y="76.64" width="18.00" height="4.51" fill="#a400ff"/><rect x="256.50" y="72.18" width="18.00" height="4.51" fill="#c000ff"/><rect x="256.50" y="67.72" width="18.00" height="4.51" fill="#dd00ff"/><rect x="256.50" y="63.26" width="18.00" height="4.51" fill="#fa00ff"/><rect x="256.50" y="58.80" width="18.00" height="4.51" fill="#ff00e7"/><rect x="256.50" y="54.34" width="18.00" height="4.51" fill="#ff00ca"/><rect x="256.50" y="49.88" width="18.00" height="4.51" fill="#ff00ad"/><rect x="256.50" y="45.42" width="18.00" height="4.51" fill="#ff0090"/><rect x="256.50" y="40.96" width="18.00" height="4.51" fill="#ff0073"/><rect x="256.50" y="36.50" width="18.00" height="4.51" fill="#ff0057"/><rect x="256.50" y="32.04" width="18.00" height="4.51" fill="#ff003a"/><rect x="256.50" y="28.50" width="18.00" height="3.59" fill="#ff001d"/></g>
<path d="M256.50 263.50H274.50M256.50 259.50H274.50M256.50 255.50H274.50M256.50 250.50H274.50M256.50 246.50H274.50M256.50 241.50H274.50M256.50 237.50H274.50M256.50 232.50H274.50M256.50 228.50H274.50M256.50 223.50H274.50M256.50 219.50H274.50M256.50 214.50H274.50M256.50 210.50H274.50M256.50 205.50H274.50M256.50 201.50H274.50M256.50 197.50H274.50M256.50 192.50H274.50M256.50 188.50H274.50M256.50 183.50H274.50M256.50 179.50H274.50M256.50 174.50H274.50M256.50 170.50H274.50M256.50 165.50H274.50M256.50 161.50H274.50M256.50 156.50H274.50M256.50 152.50H274.50M256.50 148.50H274.50M256.50 143.50H274.50M256.50 139.50H274.50M256.50 134.50H274.50M256.50 130.50H274.50M256.50 125.50H274.50M256.50 121.50H274.50M256.50 116.50H274.50M256.50 112.50H274.50M256.50 107.50H274.50M256.50 103.50H274.50M256.50 98.50H274.50M256.50 94.50H274.50M256.50 90.50H274.50M256.50 85.50H274.50M256.50 81.50H274.50M256.50 76.50H274.50M256.50 72.50H274.50M256.50 67.50H274.50M256.50 63.50H274.50M256.50 58.50H274.50M256.50 54.50H274.50M256.50 49.50H274.50M256.50 45.50H274.50M256.50 40.50H274.50M256.50 36.50H274.50M256.50 32.50H274.50M256.50 28.50H274.50M256.50 28.50V263.50M274.50 28.50V263.50" stroke="#000" stroke-opacity="0.5" stroke-width="1" fill="none"/>
<text x="0.40" y="14.90" font-size="19.3" text-anchor="start" font-weight="bold">a</text>
<text x="137.20" y="24.00" font-size="16" text-anchor="middle">AKG</text>
<text x="25.50" y="279.59" font-size="11.3" text-anchor="middle">0.0</text>
<text x="16.10" y="267.65" font-size="11.3" text-anchor="end">0.0</text>
<text x="67.90" y="279.59" font-size="11.3" text-anchor="middle">0.2</text>
<text x="16.10" y="220.65" font-size="11.3" text-anchor="end">0.2</text>
<text x="110.30" y="279.59" font-size="11.3" text-anchor="middle">0.4</text>
<text x="16.10" y="173.65" font-size="11.3" text-anchor="end">0.4</text>
<text x="152.70" y="279.59" font-size="11.3" text-anchor="middle">0.6</text>
<text x="16.10" y="126.65" font-size="11.3" text-anchor="end">0.6</text>
<text x="195.10" y="279.59" font-size="11.3" text-anchor="middle">0.8</text>
<text x="16.10" y="79.65" font-size="11.3" text-anchor="end">0.8</text>
<text x="237.50" y="279.59" font-size="11.3" text-anchor="middle">1.0</text>
<text x="16.10" y="32.65" font-size="11.3" text-anchor="end">1.0</text>
<text x="285.20" y="41.35" font-size="11.3" text-anchor="start">2</text>
<text x="285.20" y="85.95" font-size="11.3" text-anchor="start">1</text>
<text x="285.20" y="130.55" font-size="11.3" text-anchor="start">0</text>
<text x="285.20" y="175.15" font-size="11.3" text-anchor="start">−1</text>
<text x="285.20" y="219.75" font-size="11.3" text-anchor="start">−2</text>
<text x="285.20" y="264.35" font-size="11.3" text-anchor="start">−3</text>
<g transform="translate(351.5 28.5) scale(0.948113 1)">
<g clip-path="url(#pc)"><use href="#cf"/>
<use href="#tf" x="67.2" y="3.2"/>
<use href="#tf" x="27.2" y="40.0"/>
<use href="#tf" x="112.5" y="74.2"/>
<use href="#tf" x="133.8" y="101.5"/>
<use href="#tf" x="5.9" y="137.0"/>
<use href="#tf" x="190.0" y="151.7"/>
<use href="#tf" x="87.8" y="185.0"/>
<use href="#tf" x="162.2" y="234.0"/>
<use href="#to" x="0.0" y="190.3"/>
<use href="#to" x="57.3" y="184.7"/>
<use href="#to" x="71.2" y="186.8"/>
<use href="#to" x="82.8" y="174.1"/>
<use href="#to" x="77.2" y="193.7"/>
<use href="#to" x="70.0" y="198.2"/>
<use href="#to" x="103.9" y="159.6"/>
<use href="#to" x="104.1" y="172.0"/>
<use href="#to" x="105.5" y="175.5"/>
<use href="#to" x="102.3" y="178.0"/>
<use href="#to" x="104.9" y="179.8"/>
<use href="#to" x="104.4" y="178.0"/>
<use href="#to" x="103.4" y="179.7"/>
<use href="#to" x="101.3" y="180.0"/>
<use href="#to" x="118.2" y="176.2"/>
<use href="#to" x="115.4" y="179.5"/>
<use href="#to" x="109.9" y="186.5"/>
<use href="#to" x="100.4" y="189.2"/>
<use href="#to" x="139.2" y="190.5"/>
<use href="#to" x="212.0" y="202.3"/>
<use href="#to" x="101.8" y="226.1"/>
</g>
<rect x="0" y="0" width="212" height="235" fill="none" stroke="#000" stroke-opacity="0.7" stroke-width="1"/>
</g>
<path d="M351.50 264.00V268.70M347.20 263.50H351.00M391.70 264.00V268.70M347.20 216.50H351.00M431.90 264.00V268.70M347.20 169.50H351.00M472.10 264.00V268.70M347.20 122.50H351.00M512.30 264.00V268.70M347.20 75.50H351.00M552.50 264.00V268.70M347.20 28.50H351.00M589.00 36.50H592.80M589.00 81.50H592.80M589.00 125.50H592.80M589.00 170.50H592.80M589.00 214.50H592.80M589.00 259.50H592.80" stroke="#000" stroke-opacity="0.55" stroke-width="1" fill="none"/>
<g><rect x="570.50" y="259.50" width="18.00" height="4.05" fill="#ff0000"/><rect x="570.50" y="255.04" width="18.00" height="4.51" fill="#ff1d00"/><rect x="570.50" y="250.58" width="18.00" height="4.51" fill="#ff3a00"/><rect x="570.50" y="246.12" width="18.00" height="4.51" fill="#ff5700"/><rect x="570.50" y="241.66" width="18.00" height="4.51" fill="#ff7300"/><rect x="570.50" y="237.20" width="18.00" height="4.51" fill="#ff9000"/><rect x="570.50" y="232.74" width="18.00" height="4.51" fill="#ffad00"/><rect x="570.50" y="228.28" width="18.00" height="4.51" fill="#ffca00"/><rect x="570.50" y="223.82" width="18.00" height="4.51" fill="#ffe700"/><rect x="570.50" y="219.36" width="18.00" height="4.51" fill="#faff00"/><rect x="570.50" y="214.90" width="18.00" height="4.51" fill="#ddff00"/><rect x="570.50" y="210.44" width="18.00" height="4.51" fill="#c0ff00"/><rect x="570.50" y="205.98" width="18.00" height="4.51" fill="#a4ff00"/><rect x="570.50" y="201.52" width="18.00" height="4.51" fill="#87ff00"/><rect x="570.50" y="197.06" width="18.00" height="4.51" fill="#6aff00"/><rect x="570.50" y="192.60" width="18.00" height="4.51" fill="#4dff00"/><rect x="570.50" y="188.14" width="18.00" height="4.51" fill="#30ff00"/><rect x="570.50" y="183.68" width="18.00" height="4.51" fill="#13ff00"/><rect x="570.50" y="179.22" width="18.00" height="4.51" fill="#00ff0a"/><rect x="570.50" y="174.76" width="18.00" height="4.51" fill="#00ff26"/><rect x="570.50" y="170.30" width="18.00" height="4.51" fill="#00ff43"/><rect x="570.50" y="165.84" width="18.00" height="4.51" fill="#00ff60"/><rect x="570.50" y="161.38" width="18.00" height="4.51" fill="#00ff7d"/><rect x="570.50" y="156.92" width="18.00" height="4.51" fill="#00ff9a"/><rect x="570.50" y="152.46" width="18.00" height="4.51" fill="#00ffb7"/><rect x="570.50" y="148.00" width="18.00" height="4.51" fill="#00ffd4"/><rect x="570.50" y="143.54" width="18.00" height="4.51" fill="#00fff1"/><rect x="570.50" y="139.08" width="18.00" height="4.51" fill="#00f1ff"/><rect x="570.50" y="134.62" width="18.00" height="4.51" fill="#00d4ff"/><rect x="570.50" y="130.16" width="18.00" height="4.51" fill="#00b7ff"/><rect x="570.50" y="125.70" width="18.00" height="4.51" fill="#009aff"/><rect x="570.50" y="121.24" width="18.00" height="4.51" fill="#007dff"/><rect x="570.50" y="116.78" width="18.00" height="4.51" fill="#0060ff"/><rect x="570.50" y="112.32" width="18.00" height="4.51" fill="#0043ff"/><rect x="570.50" y="107.86" width="18.00" height="4.51" fill="#0026ff"/><rect x="570.50" y="103.40" width="18.00" height="4.51" fill="#000aff"/><rect x="570.50" y="98.94" width="18.00" height="4.51" fill="#1300ff"/><rect x="570.50" y="94.48" width="18.00" height="4.51" fill="#3000ff"/><rect x="570.50" y="90.02" width="18.00" height="4.51" fill="#4d00ff"/><rect x="570.50" y="85.56" width="18.00" height="4.51" fill="#6a00ff"/><rect x="570.50" y="81.10" width="18.00" height="4.51" fill="#8700ff"/><rect x="570.50" y="76.64" width="18.00" height="4.51" fill="#a400ff"/><rect x="570.50" y="72.18" width="18.00" height="4.51" fill="#c000ff"/><rect x="570.50" y="67.72" width="18.00" height="4.51" fill="#dd00ff"/><rect x="570.50" y="63.26" width="18.00" height="4.51" fill="#fa00ff"/><rect x="570.50" y="58.80" width="18.00" height="4.51" fill="#ff00e7"/><rect x="570.50" y="54.34" width="18.00" height="4.51" fill="#ff00ca"/><rect x="570.50" y="49.88" width="18.00" height="4.51" fill="#ff00ad"/><rect x="570.50" y="45.42" width="18.00" height="4.51" fill="#ff0090"/><rect x="570.50" y="40.96" width="18.00" height="4.51" fill="#ff0073"/><rect x="570.50" y="36.50" width="18.00" height="4.51" fill="#ff0057"/><rect x="570.50" y="32.04" width="18.00" height="4.51" fill="#ff003a"/><rect x="570.50" y="28.50" width="18.00" height="3.59" fill="#ff001d"/></g>
<path d="M570.50 263.50H588.50M570.50 259.50H588.50M570.50 255.50H588.50M570.50 250.50H588.50M570.50 246.50H588.50M570.50 241.50H588.50M570.50 237.50H588.50M570.50 232.50H588.50M570.50 228.50H588.50M570.50 223.50H588.50M570.50 219.50H588.50M570.50 214.50H588.50M570.50 210.50H588.50M570.50 205.50H588.50M570.50 201.50H588.50M570.50 197.50H588.50M570.50 192.50H588.50M570.50 188.50H588.50M570.50 183.50H588.50M570.50 179.50H588.50M570.50 174.50H588.50M570.50 170.50H588.50M570.50 165.50H588.50M570.50 161.50H588.50M570.50 156.50H588.50M570.50 152.50H588.50M570.50 148.50H588.50M570.50 143.50H588.50M570.50 139.50H588.50M570.50 134.50H588.50M570.50 130.50H588.50M570.50 125.50H588.50M570.50 121.50H588.50M570.50 116.50H588.50M570.50 112.50H588.50M570.50 107.50H588.50M570.50 103.50H588.50M570.50 98.50H588.50M570.50 94.50H588.50M570.50 90.50H588.50M570.50 85.50H588.50M570.50 81.50H588.50M570.50 76.50H588.50M570.50 72.50H588.50M570.50 67.50H588.50M570.50 63.50H588.50M570.50 58.50H588.50M570.50 54.50H588.50M570.50 49.50H588.50M570.50 45.50H588.50M570.50 40.50H588.50M570.50 36.50H588.50M570.50 32.50H588.50M570.50 28.50H588.50M570.50 28.50V263.50M588.50 28.50V263.50" stroke="#000" stroke-opacity="0.5" stroke-width="1" fill="none"/>
<text x="325.60" y="14.90" font-size="19.3" text-anchor="start" font-weight="bold">b</text>
<text x="451.20" y="24.10" font-size="16" text-anchor="middle" transform="translate(23.46 0) scale(0.948 1)">AEI</text>
<text x="351.50" y="280.39" font-size="11.3" text-anchor="middle">0.0</text>
<text x="340.40" y="267.65" font-size="11.3" text-anchor="end" transform="translate(17.70 0) scale(0.948 1)">0.0</text>
<text x="391.70" y="280.39" font-size="11.3" text-anchor="middle">0.2</text>
<text x="340.40" y="220.65" font-size="11.3" text-anchor="end" transform="translate(17.70 0) scale(0.948 1)">0.2</text>
<text x="431.90" y="280.39" font-size="11.3" text-anchor="middle">0.4</text>
<text x="340.40" y="173.65" font-size="11.3" text-anchor="end" transform="translate(17.70 0) scale(0.948 1)">0.4</text>
<text x="472.10" y="280.39" font-size="11.3" text-anchor="middle">0.6</text>
<text x="340.40" y="126.65" font-size="11.3" text-anchor="end" transform="translate(17.70 0) scale(0.948 1)">0.6</text>
<text x="512.30" y="280.39" font-size="11.3" text-anchor="middle">0.8</text>
<text x="340.40" y="79.65" font-size="11.3" text-anchor="end" transform="translate(17.70 0) scale(0.948 1)">0.8</text>
<text x="552.50" y="280.39" font-size="11.3" text-anchor="middle">1.0</text>
<text x="340.40" y="32.65" font-size="11.3" text-anchor="end" transform="translate(17.70 0) scale(0.948 1)">1.0</text>
<text x="596.50" y="41.35" font-size="11.3" text-anchor="start" transform="translate(31.02 0) scale(0.948 1)">2</text>
<text x="596.50" y="85.95" font-size="11.3" text-anchor="start" transform="translate(31.02 0) scale(0.948 1)">1</text>
<text x="596.50" y="130.55" font-size="11.3" text-anchor="start" transform="translate(31.02 0) scale(0.948 1)">0</text>
<text x="596.50" y="175.15" font-size="11.3" text-anchor="start" transform="translate(31.02 0) scale(0.948 1)">−1</text>
<text x="596.50" y="219.75" font-size="11.3" text-anchor="start" transform="translate(31.02 0) scale(0.948 1)">−2</text>
<text x="596.50" y="264.35" font-size="11.3" text-anchor="start" transform="translate(31.02 0) scale(0.948 1)">−3</text>
<g transform="translate(25.5 318.5) scale(1 1)">
<g clip-path="url(#pc)"><use href="#cf"/>
<use href="#tf" x="67.2" y="3.2"/>
<use href="#tf" x="27.2" y="40.0"/>
<use href="#tf" x="112.5" y="74.2"/>
<use href="#tf" x="133.8" y="101.5"/>
<use href="#tf" x="5.9" y="137.0"/>
<use href="#tf" x="190.0" y="151.7"/>
<use href="#tf" x="87.8" y="185.0"/>
<use href="#tf" x="162.2" y="234.0"/>
<use href="#to" x="64.0" y="143.6"/>
<use href="#to" x="99.9" y="138.5"/>
<use href="#to" x="94.3" y="166.0"/>
<use href="#to" x="94.3" y="169.0"/>
<use href="#to" x="94.5" y="171.5"/>
<use href="#to" x="104.2" y="169.1"/>
<use href="#to" x="108.5" y="170.7"/>
<use href="#to" x="112.1" y="171.7"/>
<use href="#to" x="114.0" y="172.8"/>
<use href="#to" x="115.3" y="173.0"/>
<use href="#to" x="93.7" y="178.2"/>
<use href="#to" x="93.0" y="188.5"/>
<use href="#to" x="95.3" y="193.0"/>
</g>
<rect x="0" y="0" width="212" height="235" fill="none" stroke="#000" stroke-opacity="0.7" stroke-width="1"/>
</g>
<path d="M25.50 554.00V558.70M21.00 553.50H25.00M67.90 554.00V558.70M21.00 506.50H25.00M110.30 554.00V558.70M21.00 459.50H25.00M152.70 554.00V558.70M21.00 412.50H25.00M195.10 554.00V558.70M21.00 365.50H25.00M237.50 554.00V558.70M21.00 318.50H25.00M275.00 326.50H279.60M275.00 371.50H279.60M275.00 416.50H279.60M275.00 460.50H279.60M275.00 504.50H279.60M275.00 549.50H279.60" stroke="#000" stroke-opacity="0.55" stroke-width="1" fill="none"/>
<g><rect x="256.50" y="549.50" width="18.00" height="4.05" fill="#ff0000"/><rect x="256.50" y="545.05" width="18.00" height="4.50" fill="#ff1d00"/><rect x="256.50" y="540.60" width="18.00" height="4.50" fill="#ff3a00"/><rect x="256.50" y="536.15" width="18.00" height="4.50" fill="#ff5700"/><rect x="256.50" y="531.70" width="18.00" height="4.50" fill="#ff7300"/><rect x="256.50" y="527.25" width="18.00" height="4.50" fill="#ff9000"/><rect x="256.50" y="522.80" width="18.00" height="4.50" fill="#ffad00"/><rect x="256.50" y="518.35" width="18.00" height="4.50" fill="#ffca00"/><rect x="256.50" y="513.90" width="18.00" height="4.50" fill="#ffe700"/><rect x="256.50" y="509.45" width="18.00" height="4.50" fill="#faff00"/><rect x="256.50" y="505.00" width="18.00" height="4.50" fill="#ddff00"/><rect x="256.50" y="500.55" width="18.00" height="4.50" fill="#c0ff00"/><rect x="256.50" y="496.10" width="18.00" height="4.50" fill="#a4ff00"/><rect x="256.50" y="491.65" width="18.00" height="4.50" fill="#87ff00"/><rect x="256.50" y="487.20" width="18.00" height="4.50" fill="#6aff00"/><rect x="256.50" y="482.75" width="18.00" height="4.50" fill="#4dff00"/><rect x="256.50" y="478.30" width="18.00" height="4.50" fill="#30ff00"/><rect x="256.50" y="473.85" width="18.00" height="4.50" fill="#13ff00"/><rect x="256.50" y="469.40" width="18.00" height="4.50" fill="#00ff0a"/><rect x="256.50" y="464.95" width="18.00" height="4.50" fill="#00ff26"/><rect x="256.50" y="460.50" width="18.00" height="4.50" fill="#00ff43"/><rect x="256.50" y="456.05" width="18.00" height="4.50" fill="#00ff60"/><rect x="256.50" y="451.60" width="18.00" height="4.50" fill="#00ff7d"/><rect x="256.50" y="447.15" width="18.00" height="4.50" fill="#00ff9a"/><rect x="256.50" y="442.70" width="18.00" height="4.50" fill="#00ffb7"/><rect x="256.50" y="438.25" width="18.00" height="4.50" fill="#00ffd4"/><rect x="256.50" y="433.80" width="18.00" height="4.50" fill="#00fff1"/><rect x="256.50" y="429.35" width="18.00" height="4.50" fill="#00f1ff"/><rect x="256.50" y="424.90" width="18.00" height="4.50" fill="#00d4ff"/><rect x="256.50" y="420.45" width="18.00" height="4.50" fill="#00b7ff"/><rect x="256.50" y="416.00" width="18.00" height="4.50" fill="#009aff"/><rect x="256.50" y="411.55" width="18.00" height="4.50" fill="#007dff"/><rect x="256.50" y="407.10" width="18.00" height="4.50" fill="#0060ff"/><rect x="256.50" y="402.65" width="18.00" height="4.50" fill="#0043ff"/><rect x="256.50" y="398.20" width="18.00" height="4.50" fill="#0026ff"/><rect x="256.50" y="393.75" width="18.00" height="4.50" fill="#000aff"/><rect x="256.50" y="389.30" width="18.00" height="4.50" fill="#1300ff"/><rect x="256.50" y="384.85" width="18.00" height="4.50" fill="#3000ff"/><rect x="256.50" y="380.40" width="18.00" height="4.50" fill="#4d00ff"/><rect x="256.50" y="375.95" width="18.00" height="4.50" fill="#6a00ff"/><rect x="256.50" y="371.50" width="18.00" height="4.50" fill="#8700ff"/><rect x="256.50" y="367.05" width="18.00" height="4.50" fill="#a400ff"/><rect x="256.50" y="362.60" width="18.00" height="4.50" fill="#c000ff"/><rect x="256.50" y="358.15" width="18.00" height="4.50" fill="#dd00ff"/><rect x="256.50" y="353.70" width="18.00" height="4.50" fill="#fa00ff"/><rect x="256.50" y="349.25" width="18.00" height="4.50" fill="#ff00e7"/><rect x="256.50" y="344.80" width="18.00" height="4.50" fill="#ff00ca"/><rect x="256.50" y="340.35" width="18.00" height="4.50" fill="#ff00ad"/><rect x="256.50" y="335.90" width="18.00" height="4.50" fill="#ff0090"/><rect x="256.50" y="331.45" width="18.00" height="4.50" fill="#ff0073"/><rect x="256.50" y="327.00" width="18.00" height="4.50" fill="#ff0057"/><rect x="256.50" y="322.55" width="18.00" height="4.50" fill="#ff003a"/><rect x="256.50" y="318.50" width="18.00" height="4.10" fill="#ff001d"/></g>
<path d="M256.50 553.50H274.50M256.50 549.50H274.50M256.50 545.50H274.50M256.50 540.50H274.50M256.50 536.50H274.50M256.50 531.50H274.50M256.50 527.50H274.50M256.50 522.50H274.50M256.50 518.50H274.50M256.50 513.50H274.50M256.50 509.50H274.50M256.50 504.50H274.50M256.50 500.50H274.50M256.50 496.50H274.50M256.50 491.50H274.50M256.50 487.50H274.50M256.50 482.50H274.50M256.50 478.50H274.50M256.50 473.50H274.50M256.50 469.50H274.50M256.50 464.50H274.50M256.50 460.50H274.50M256.50 456.50H274.50M256.50 451.50H274.50M256.50 447.50H274.50M256.50 442.50H274.50M256.50 438.50H274.50M256.50 433.50H274.50M256.50 429.50H274.50M256.50 424.50H274.50M256.50 420.50H274.50M256.50 416.50H274.50M256.50 411.50H274.50M256.50 407.50H274.50M256.50 402.50H274.50M256.50 398.50H274.50M256.50 393.50H274.50M256.50 389.50H274.50M256.50 384.50H274.50M256.50 380.50H274.50M256.50 375.50H274.50M256.50 371.50H274.50M256.50 367.50H274.50M256.50 362.50H274.50M256.50 358.50H274.50M256.50 353.50H274.50M256.50 349.50H274.50M256.50 344.50H274.50M256.50 340.50H274.50M256.50 335.50H274.50M256.50 331.50H274.50M256.50 326.50H274.50M256.50 322.50H274.50M256.50 318.50H274.50M256.50 318.50V553.50M274.50 318.50V553.50" stroke="#000" stroke-opacity="0.5" stroke-width="1" fill="none"/>
<text x="0.40" y="306.00" font-size="19.3" text-anchor="start" font-weight="bold">c</text>
<text x="145.60" y="313.70" font-size="16" text-anchor="middle">EQ90</text>
<text x="25.50" y="569.39" font-size="11.3" text-anchor="middle">0.0</text>
<text x="15.10" y="557.65" font-size="11.3" text-anchor="end">0.0</text>
<text x="67.90" y="569.39" font-size="11.3" text-anchor="middle">0.2</text>
<text x="15.10" y="510.65" font-size="11.3" text-anchor="end">0.2</text>
<text x="110.30" y="569.39" font-size="11.3" text-anchor="middle">0.4</text>
<text x="15.10" y="463.65" font-size="11.3" text-anchor="end">0.4</text>
<text x="152.70" y="569.39" font-size="11.3" text-anchor="middle">0.6</text>
<text x="15.10" y="416.65" font-size="11.3" text-anchor="end">0.6</text>
<text x="195.10" y="569.39" font-size="11.3" text-anchor="middle">0.8</text>
<text x="15.10" y="369.65" font-size="11.3" text-anchor="end">0.8</text>
<text x="237.50" y="569.39" font-size="11.3" text-anchor="middle">1.0</text>
<text x="15.10" y="322.65" font-size="11.3" text-anchor="end">1.0</text>
<text x="285.20" y="329.95" font-size="11.3" text-anchor="start">2</text>
<text x="285.20" y="374.45" font-size="11.3" text-anchor="start">1</text>
<text x="285.20" y="418.95" font-size="11.3" text-anchor="start">0</text>
<text x="285.20" y="463.45" font-size="11.3" text-anchor="start">−1</text>
<text x="285.20" y="507.95" font-size="11.3" text-anchor="start">−2</text>
<text x="285.20" y="552.45" font-size="11.3" text-anchor="start">−3</text>
<g transform="translate(351.5 318.5) scale(0.948113 1)">
<g clip-path="url(#pc)"><use href="#cf"/>
<use href="#tf" x="67.2" y="3.2"/>
<use href="#tf" x="27.2" y="40.0"/>
<use href="#tf" x="112.5" y="74.2"/>
<use href="#tf" x="133.8" y="101.5"/>
<use href="#tf" x="5.9" y="137.0"/>
<use href="#tf" x="190.0" y="151.7"/>
<use href="#tf" x="87.8" y="185.0"/>
<use href="#tf" x="162.2" y="234.0"/>
<use href="#to" x="144.5" y="-0.2"/>
<use href="#to" x="212.0" y="0.0"/>
<use href="#to" x="212.0" y="235.0"/>
<use href="#to" x="51.4" y="97.3"/>
<use href="#to" x="98.2" y="114.7"/>
<use href="#to" x="165.6" y="51.2"/>
<use href="#to" x="177.3" y="84.8"/>
<use href="#to" x="212.0" y="80.5"/>
<use href="#to" x="198.8" y="101.9"/>
<use href="#to" x="176.1" y="115.3"/>
<use href="#to" x="212.0" y="112.6"/>
<use href="#to" x="124.9" y="128.4"/>
<use href="#to" x="154.9" y="126.1"/>
<use href="#to" x="89.5" y="138.3"/>
<use href="#to" x="96.0" y="145.5"/>
<use href="#to" x="102.9" y="144.1"/>
<use href="#to" x="89.2" y="150.4"/>
<use href="#to" x="97.1" y="154.3"/>
<use href="#to" x="117.1" y="155.7"/>
<use href="#to" x="79.2" y="160.3"/>
<use href="#to" x="92.5" y="159.8"/>
<use href="#to" x="97.1" y="160.7"/>
<use href="#to" x="103.4" y="164.5"/>
<use href="#to" x="96.5" y="165.0"/>
<use href="#to" x="98.6" y="166.0"/>
<use href="#to" x="97.1" y="170.3"/>
<use href="#to" x="52.0" y="172.7"/>
<use href="#to" x="138.8" y="179.8"/>
<use href="#to" x="0.0" y="209.3"/>
<use href="#to" x="107.3" y="211.2"/>
<use href="#to" x="41.9" y="235.0"/>
</g>
<rect x="0" y="0" width="212" height="235" fill="none" stroke="#000" stroke-opacity="0.7" stroke-width="1"/>
</g>
<path d="M351.50 554.00V558.70M347.20 553.50H351.00M391.70 554.00V558.70M347.20 506.50H351.00M431.90 554.00V558.70M347.20 459.50H351.00M472.10 554.00V558.70M347.20 412.50H351.00M512.30 554.00V558.70M347.20 365.50H351.00M552.50 554.00V558.70M347.20 318.50H351.00M589.00 326.50H592.80M589.00 371.50H592.80M589.00 416.50H592.80M589.00 460.50H592.80M589.00 504.50H592.80M589.00 549.50H592.80" stroke="#000" stroke-opacity="0.55" stroke-width="1" fill="none"/>
<g><rect x="570.50" y="549.50" width="18.00" height="4.05" fill="#ff0000"/><rect x="570.50" y="545.05" width="18.00" height="4.50" fill="#ff1d00"/><rect x="570.50" y="540.60" width="18.00" height="4.50" fill="#ff3a00"/><rect x="570.50" y="536.15" width="18.00" height="4.50" fill="#ff5700"/><rect x="570.50" y="531.70" width="18.00" height="4.50" fill="#ff7300"/><rect x="570.50" y="527.25" width="18.00" height="4.50" fill="#ff9000"/><rect x="570.50" y="522.80" width="18.00" height="4.50" fill="#ffad00"/><rect x="570.50" y="518.35" width="18.00" height="4.50" fill="#ffca00"/><rect x="570.50" y="513.90" width="18.00" height="4.50" fill="#ffe700"/><rect x="570.50" y="509.45" width="18.00" height="4.50" fill="#faff00"/><rect x="570.50" y="505.00" width="18.00" height="4.50" fill="#ddff00"/><rect x="570.50" y="500.55" width="18.00" height="4.50" fill="#c0ff00"/><rect x="570.50" y="496.10" width="18.00" height="4.50" fill="#a4ff00"/><rect x="570.50" y="491.65" width="18.00" height="4.50" fill="#87ff00"/><rect x="570.50" y="487.20" width="18.00" height="4.50" fill="#6aff00"/><rect x="570.50" y="482.75" width="18.00" height="4.50" fill="#4dff00"/><rect x="570.50" y="478.30" width="18.00" height="4.50" fill="#30ff00"/><rect x="570.50" y="473.85" width="18.00" height="4.50" fill="#13ff00"/><rect x="570.50" y="469.40" width="18.00" height="4.50" fill="#00ff0a"/><rect x="570.50" y="464.95" width="18.00" height="4.50" fill="#00ff26"/><rect x="570.50" y="460.50" width="18.00" height="4.50" fill="#00ff43"/><rect x="570.50" y="456.05" width="18.00" height="4.50" fill="#00ff60"/><rect x="570.50" y="451.60" width="18.00" height="4.50" fill="#00ff7d"/><rect x="570.50" y="447.15" width="18.00" height="4.50" fill="#00ff9a"/><rect x="570.50" y="442.70" width="18.00" height="4.50" fill="#00ffb7"/><rect x="570.50" y="438.25" width="18.00" height="4.50" fill="#00ffd4"/><rect x="570.50" y="433.80" width="18.00" height="4.50" fill="#00fff1"/><rect x="570.50" y="429.35" width="18.00" height="4.50" fill="#00f1ff"/><rect x="570.50" y="424.90" width="18.00" height="4.50" fill="#00d4ff"/><rect x="570.50" y="420.45" width="18.00" height="4.50" fill="#00b7ff"/><rect x="570.50" y="416.00" width="18.00" height="4.50" fill="#009aff"/><rect x="570.50" y="411.55" width="18.00" height="4.50" fill="#007dff"/><rect x="570.50" y="407.10" width="18.00" height="4.50" fill="#0060ff"/><rect x="570.50" y="402.65" width="18.00" height="4.50" fill="#0043ff"/><rect x="570.50" y="398.20" width="18.00" height="4.50" fill="#0026ff"/><rect x="570.50" y="393.75" width="18.00" height="4.50" fill="#000aff"/><rect x="570.50" y="389.30" width="18.00" height="4.50" fill="#1300ff"/><rect x="570.50" y="384.85" width="18.00" height="4.50" fill="#3000ff"/><rect x="570.50" y="380.40" width="18.00" height="4.50" fill="#4d00ff"/><rect x="570.50" y="375.95" width="18.00" height="4.50" fill="#6a00ff"/><rect x="570.50" y="371.50" width="18.00" height="4.50" fill="#8700ff"/><rect x="570.50" y="367.05" width="18.00" height="4.50" fill="#a400ff"/><rect x="570.50" y="362.60" width="18.00" height="4.50" fill="#c000ff"/><rect x="570.50" y="358.15" width="18.00" height="4.50" fill="#dd00ff"/><rect x="570.50" y="353.70" width="18.00" height="4.50" fill="#fa00ff"/><rect x="570.50" y="349.25" width="18.00" height="4.50" fill="#ff00e7"/><rect x="570.50" y="344.80" width="18.00" height="4.50" fill="#ff00ca"/><rect x="570.50" y="340.35" width="18.00" height="4.50" fill="#ff00ad"/><rect x="570.50" y="335.90" width="18.00" height="4.50" fill="#ff0090"/><rect x="570.50" y="331.45" width="18.00" height="4.50" fill="#ff0073"/><rect x="570.50" y="327.00" width="18.00" height="4.50" fill="#ff0057"/><rect x="570.50" y="322.55" width="18.00" height="4.50" fill="#ff003a"/><rect x="570.50" y="318.50" width="18.00" height="4.10" fill="#ff001d"/></g>
<path d="M570.50 553.50H588.50M570.50 549.50H588.50M570.50 545.50H588.50M570.50 540.50H588.50M570.50 536.50H588.50M570.50 531.50H588.50M570.50 527.50H588.50M570.50 522.50H588.50M570.50 518.50H588.50M570.50 513.50H588.50M570.50 509.50H588.50M570.50 504.50H588.50M570.50 500.50H588.50M570.50 496.50H588.50M570.50 491.50H588.50M570.50 487.50H588.50M570.50 482.50H588.50M570.50 478.50H588.50M570.50 473.50H588.50M570.50 469.50H588.50M570.50 464.50H588.50M570.50 460.50H588.50M570.50 456.50H588.50M570.50 451.50H588.50M570.50 447.50H588.50M570.50 442.50H588.50M570.50 438.50H588.50M570.50 433.50H588.50M570.50 429.50H588.50M570.50 424.50H588.50M570.50 420.50H588.50M570.50 416.50H588.50M570.50 411.50H588.50M570.50 407.50H588.50M570.50 402.50H588.50M570.50 398.50H588.50M570.50 393.50H588.50M570.50 389.50H588.50M570.50 384.50H588.50M570.50 380.50H588.50M570.50 375.50H588.50M570.50 371.50H588.50M570.50 367.50H588.50M570.50 362.50H588.50M570.50 358.50H588.50M570.50 353.50H588.50M570.50 349.50H588.50M570.50 344.50H588.50M570.50 340.50H588.50M570.50 335.50H588.50M570.50 331.50H588.50M570.50 326.50H588.50M570.50 322.50H588.50M570.50 318.50H588.50M570.50 318.50V553.50M588.50 318.50V553.50" stroke="#000" stroke-opacity="0.5" stroke-width="1" fill="none"/>
<text x="325.60" y="306.00" font-size="19.3" text-anchor="start" font-weight="bold">d</text>
<text x="453.60" y="313.60" font-size="16" text-anchor="middle" transform="translate(23.59 0) scale(0.948 1)">RI</text>
<text x="351.50" y="570.39" font-size="11.3" text-anchor="middle">0.0</text>
<text x="340.40" y="557.65" font-size="11.3" text-anchor="end" transform="translate(17.70 0) scale(0.948 1)">0.0</text>
<text x="391.70" y="570.39" font-size="11.3" text-anchor="middle">0.2</text>
<text x="340.40" y="510.65" font-size="11.3" text-anchor="end" transform="translate(17.70 0) scale(0.948 1)">0.2</text>
<text x="431.90" y="570.39" font-size="11.3" text-anchor="middle">0.4</text>
<text x="340.40" y="463.65" font-size="11.3" text-anchor="end" transform="translate(17.70 0) scale(0.948 1)">0.4</text>
<text x="472.10" y="570.39" font-size="11.3" text-anchor="middle">0.6</text>
<text x="340.40" y="416.65" font-size="11.3" text-anchor="end" transform="translate(17.70 0) scale(0.948 1)">0.6</text>
<text x="512.30" y="570.39" font-size="11.3" text-anchor="middle">0.8</text>
<text x="340.40" y="369.65" font-size="11.3" text-anchor="end" transform="translate(17.70 0) scale(0.948 1)">0.8</text>
<text x="552.50" y="570.39" font-size="11.3" text-anchor="middle">1.0</text>
<text x="340.40" y="322.65" font-size="11.3" text-anchor="end" transform="translate(17.70 0) scale(0.948 1)">1.0</text>
<text x="596.20" y="329.95" font-size="11.3" text-anchor="start" transform="translate(31.00 0) scale(0.948 1)">2</text>
<text x="596.20" y="374.45" font-size="11.3" text-anchor="start" transform="translate(31.00 0) scale(0.948 1)">1</text>
<text x="596.20" y="418.95" font-size="11.3" text-anchor="start" transform="translate(31.00 0) scale(0.948 1)">0</text>
<text x="596.20" y="463.45" font-size="11.3" text-anchor="start" transform="translate(31.00 0) scale(0.948 1)">−1</text>
<text x="596.20" y="507.95" font-size="11.3" text-anchor="start" transform="translate(31.00 0) scale(0.948 1)">−2</text>
<text x="596.20" y="552.45" font-size="11.3" text-anchor="start" transform="translate(31.00 0) scale(0.948 1)">−3</text>
</svg></body></html>
